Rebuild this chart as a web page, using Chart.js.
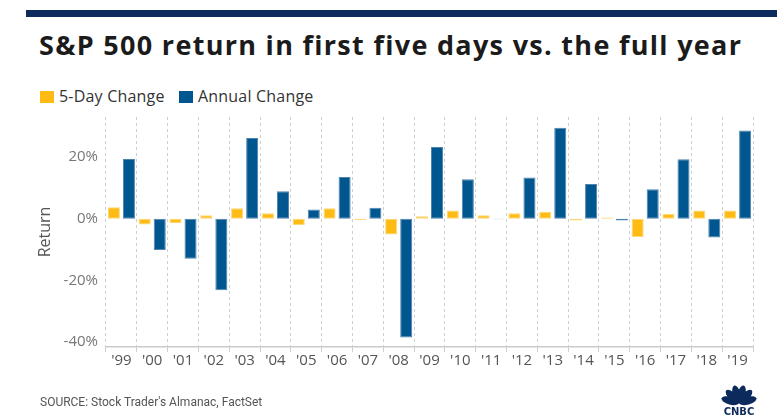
<!DOCTYPE html>
<html>
<head>
<meta charset="utf-8">
<script src="https://cdn.jsdelivr.net/npm/chart.js@4.4.1/dist/chart.umd.min.js"></script>
<style>
  body { margin: 0; background: #fff; font-family: "Open Sans", Lato, sans-serif; }
  #page { position: relative; width: 777px; height: 419px; overflow: hidden; }
  #topbar { position: absolute; left: 26px; top: 10px; width: 751px; height: 7px; background: #0c2b5c; }
  #title { position: absolute; left: 39px; top: 26px; font-size: 27px; font-weight: 700; color: #1b1b1b; white-space: nowrap; letter-spacing: 1.3px; }
  #legend { position: absolute; left: 40px; top: 85px; font-size: 16px; color: #333; white-space: nowrap; letter-spacing: 0.2px; }
  #legend span.sw { display: inline-block; width: 14px; height: 12px; vertical-align: -1px; margin-right: 5px; }
  #legend span.item { margin-right: 10px; }
  #source { position: absolute; left: 40px; top: 395px; font-family: Roboto, sans-serif; font-size: 12px; color: #555; }
  #logo { position: absolute; left: 716px; top: 381px; }
  #chartBox { position: absolute; left: 0; top: 0; width: 777px; height: 419px; }
</style>
</head>
<body>
<div id="page">
  <div id="topbar"></div>
  <div id="title">S&amp;P 500 return in first five days vs. the full year</div>
  <div id="legend">
    <span class="item"><span class="sw" style="background:#fdbb13"></span>5-Day Change</span>
    <span class="item"><span class="sw" style="background:#00568f"></span>Annual Change</span>
  </div>
  <div id="chartBox"><canvas id="myChart"></canvas></div>
  <div id="source">SOURCE: Stock Trader's Almanac, FactSet</div>
  <svg id="logo" width="46" height="36" viewBox="0 0 46 36">
    <g fill="#0c2b5c" transform="translate(23,22)">
      <ellipse cx="0" cy="-9" rx="4" ry="9" transform="rotate(-75)"/>
      <ellipse cx="0" cy="-9" rx="4" ry="9" transform="rotate(-45)"/>
      <ellipse cx="0" cy="-9" rx="4" ry="9" transform="rotate(-15)"/>
      <ellipse cx="0" cy="-9" rx="4" ry="9" transform="rotate(15)"/>
      <ellipse cx="0" cy="-9" rx="4" ry="9" transform="rotate(45)"/>
      <ellipse cx="0" cy="-9" rx="4" ry="9" transform="rotate(75)"/>
    </g>
    <text x="23" y="34" text-anchor="middle" font-family="DejaVu Sans" font-weight="bold" font-size="10" fill="#0c2b5c">CNBC</text>
  </svg>
</div>
<script>
// anos (categorias)
const years = ["'99", "'00", "'01", "'02", "'03", "'04", "'05", "'06", "'07", "'08", "'09",
               "'10", "'11", "'12", "'13", "'14", "'15", "'16", "'17", "'18", "'19"];

// retorno nos 5 primeiros dias (%)
const fiveDay = [3.7, -1.9, -1.5, 1.1, 3.4, 1.8, -2.0, 3.4, -0.4, -5.1, 0.8,
                 2.7, 1.1, 1.8, 2.3, -0.6, 0.4, -5.9, 1.5, 2.7, 2.7];

// retorno no ano (%)
const annual = [19.4, -10.1, -13.0, -23.2, 26.2, 8.9, 3.0, 13.5, 3.6, -38.5, 23.3,
                12.8, -0.2, 13.4, 29.5, 11.3, -0.6, 9.6, 19.3, -6.1, 28.6];

// marcas do eixo y
const yTicks = [-40, -20, 0, 20];

const ctx = document.getElementById('myChart').getContext('2d');
const myChart = new Chart(ctx, {
    type: 'bar',
    data: {
        labels: years,
        datasets: [{
            label: '5-Day Change',
            data: fiveDay,
            backgroundColor: '#fdbb13',
            borderColor: '#fdd675',
            borderWidth: 1,
            borderSkipped: false
        }, {
            label: 'Annual Change',
            data: annual,
            backgroundColor: '#00568f',
            borderColor: '#4d84ad',
            borderWidth: 1,
            borderSkipped: false
        }]
    },
    options: {
        responsive: true,
        maintainAspectRatio: false,
        animation: false,
        categoryPercentage: 0.977,
        barPercentage: 0.8,
        layout: { padding: { left: 0, right: 24, top: 117, bottom: 0 } },
        plugins: { legend: { display: false }, tooltip: { enabled: false } },
        scales: {
            x: {
                grid: { offset: true, color: '#cfcfcf', tickLength: 5, drawOnChartArea: true },
                border: { display: true, color: '#cccccc', width: 1.5, dash: [3, 3] },
                ticks: { color: '#555', padding: 0, font: { family: 'Open Sans', size: 15 }, maxRotation: 0, autoSkip: false },
                afterFit: (s) => { s.height = 72; }
            },
            y: {
                min: -41.6,
                max: 33,
                grid: { display: false, drawTicks: false },
                border: { display: false },
                afterBuildTicks: (s) => { s.ticks = yTicks.map(v => ({ value: v })); },
                ticks: {
                    color: '#777', padding: 8, font: { family: 'Open Sans', size: 15 },
                    callback: (v) => v + '%'
                },
                title: {
                    display: true, text: 'Return', color: '#555',
                    font: { family: 'Open Sans', size: 16 }, padding: { top: 36, bottom: 0 }
                },
                afterFit: (s) => { s.width = 106; }
            }
        }
    }
});
</script>
</body>
</html>
